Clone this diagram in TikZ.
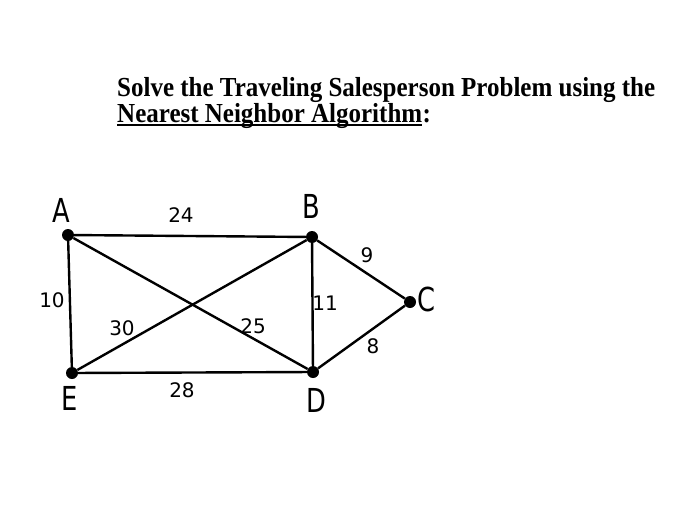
\documentclass[tikz,border=0pt]{standalone}
\usepackage{graphicx}
\usepackage{fontspec}
\setmainfont{Liberation Serif}
\newfontfamily\hand{DejaVu Sans}
\newcommand{\narrow}[1]{\scalebox{0.78}[1]{#1}}
\newcommand{\tallt}[1]{\scalebox{1}[1.1]{#1}}
\begin{document}
\begin{tikzpicture}[x=1pt,y=-1pt,
  vtx/.style={circle,fill=black,inner sep=0pt,minimum size=12pt},
  edge/.style={line width=2.4pt},
  lbl/.style={font=\hand\fontsize{33}{33}\selectfont,inner sep=0pt},
  wt/.style={font=\hand\fontsize{20}{20}\selectfont,inner sep=0pt},
  title/.style={anchor=base west,font=\fontsize{25}{28}\selectfont\bfseries,inner sep=0pt}]
\useasboundingbox (0,0) rectangle (700,516);
\node[title] (t1) at (117,96) {\tallt{Solve the Traveling Salesperson Problem using the}};
\node[title] (t2) at (117,122) {\tallt{Nearest Neighbor Algorithm}};
\node[title,anchor=base west] (t3) at (t2.base east) {\tallt{:}};
\draw[line width=1.8pt] ([yshift=-3pt]t2.base west) -- ([yshift=-3pt]t2.base east);
\node[vtx] (A) at (68,235) {};
\node[vtx] (B) at (312,237) {};
\node[vtx] (C) at (410,302) {};
\node[vtx] (D) at (313,372) {};
\node[vtx] (E) at (72,373) {};
\draw[edge] (A) -- (B);
\draw[edge] (A) -- (E);
\draw[edge] (A) -- (D);
\draw[edge] (B) -- (E);
\draw[edge] (B) -- (D);
\draw[edge] (B) -- (C);
\draw[edge] (C) -- (D);
\draw[edge] (E) -- (D);
\node[lbl] (lA) at (61,210) {\narrow{A}};
\node[lbl] (lB) at (311,206) {\narrow{B}};
\node[lbl] (lC) at (426,299) {\narrow{C}};
\node[lbl] (lD) at (316,400) {\narrow{D}};
\node[lbl] (lE) at (70,398) {\narrow{E}};
\node[wt] (w24) at (181,215) {24};
\node[wt] (w9) at (367,255) {9};
\node[wt] (w10) at (52,300) {10};
\node[wt] (w11) at (325,303) {11};
\node[wt] (w30) at (122,328) {30};
\node[wt] (w25) at (253,326) {25};
\node[wt] (w8) at (373,346) {8};
\node[wt] (w28) at (182,390) {28};
\end{tikzpicture}
\end{document}
